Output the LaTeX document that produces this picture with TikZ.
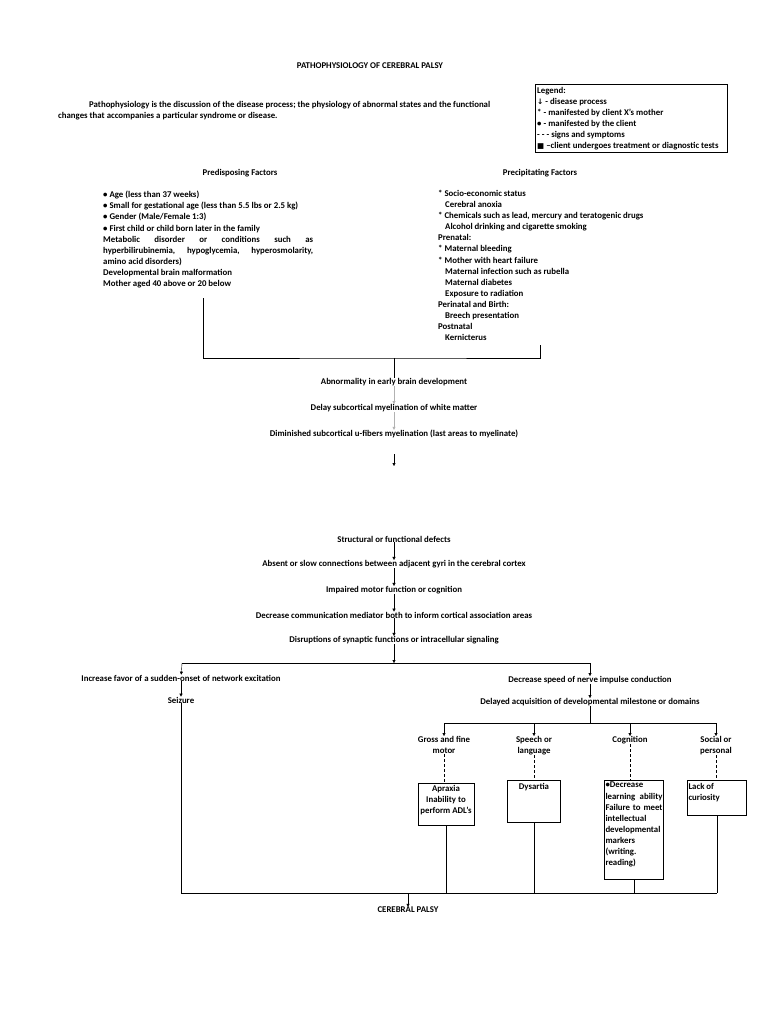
\documentclass[tikz,border=0pt]{standalone}
\usepackage{fontspec}
\setmainfont{Carlito}
\newfontfamily\symfont{DejaVu Sans}
\usetikzlibrary{arrows.meta, positioning}

\begin{document}
\begin{tikzpicture}[x=1pt, y=-1pt,
  txt/.style={font=\fontsize{8.8}{11.1}\selectfont\bfseries, inner sep=0pt},
  listbox/.style={txt, anchor=north west, align=left},
  flow/.style={-{Triangle[length=3pt, width=3pt]}, thin},
  faint/.style={flow, gray!60},
  link/.style={thin},
  sign/.style={thin, dash pattern=on 3pt off 2pt},
  framebox/.style={draw, thin, anchor=north, inner sep=0pt}
]
\useasboundingbox (0,0) rectangle (768,1024);

\node[txt] (title) at (370,66) {PATHOPHYSIOLOGY OF CEREBRAL PALSY};
\node[listbox] (intro) at (58,101) {\hspace*{31pt}Pathophysiology is the discussion of the disease process; the physiology of abnormal states and the functional\\changes that accompanies a particular syndrome or disease.};

\node[draw, thin, anchor=north west, minimum width=192pt, minimum height=68pt] (legend) at (535,84) {};
\node[listbox, below right=3pt and 2pt of legend.north west] (legendtext) {Legend:\\
{\symfont\fontsize{7.5}{11.1}\selectfont ↓} - disease process\\
* - manifested by client X's mother\\
• - manifested by the client\\
- - - signs and symptoms\\
{\symfont\fontsize{7.5}{11.1}\selectfont ■} --client undergoes treatment or diagnostic tests};

\node[txt] (predhead) at (240,173) {Predisposing Factors};
\node[listbox] (pred) at (103,191) {• Age (less than 37 weeks)\\
• Small for gestational age (less than 5.5 lbs or 2.5 kg)\\
• Gender (Male/Female 1:3)\\
• First child or child born later in the family\\
\hbox to 210pt{Metabolic\hfill disorder\hfill or\hfill conditions\hfill such\hfill as}\\
\hbox to 210pt{hyperbilirubinemia,\hfill hypoglycemia,\hfill hyperosmolarity,}\\
amino acid disorders)\\
Developmental brain malformation\\
Mother aged 40 above or 20 below};

\node[txt] (prechead) at (540,173) {Precipitating Factors};
\node[listbox] (prec) at (438,190) {* Socio-economic status\\
\hspace*{7pt}Cerebral anoxia\\
* Chemicals such as lead, mercury and teratogenic drugs\\
\hspace*{7pt}Alcohol drinking and cigarette smoking\\
Prenatal:\\
* Maternal bleeding\\
* Mother with heart failure\\
\hspace*{7pt}Maternal infection such as rubella\\
\hspace*{7pt}Maternal diabetes\\
\hspace*{7pt}Exposure to radiation\\
Perinatal and Birth:\\
\hspace*{7pt}Breech presentation\\
Postnatal\\
\hspace*{7pt}Kernicterus};

\coordinate (predend) at (203,298);
\coordinate (precend) at (540,345);
\coordinate (join) at (394,358);

\node[txt] (abnormal) at (394,382) {Abnormality in early brain development};
\node[txt] (delay) at (394,408) {Delay subcortical myelination of white matter};
\node[txt] (diminish) at (394,434) {Diminished subcortical u-fibers myelination (last areas to myelinate)};
\coordinate (gaptop) at (394,454);
\coordinate (gapend) at (394,466);

\node[txt] (defects) at (394,539) {Structural or functional defects};
\node[txt] (gyri) at (394,564) {Absent or slow connections between adjacent gyri in the cerebral cortex};
\node[txt] (impaired) at (394,590) {Impaired motor function or cognition};
\node[txt] (mediator) at (394,615) {Decrease communication mediator both to inform cortical association areas};
\node[txt] (synaptic) at (394,640) {Disruptions of synaptic functions or intracellular signaling};

\coordinate (split) at (394,663);
\coordinate (leftsplit) at (182,663);
\coordinate (rightsplit) at (590,663);

\node[txt] (excite) at (181,678) {Increase favor of a sudden-onset of network excitation};
\node[txt] (seizure) at (181,700) {Seizure};
\node[txt] (speed) at (590,680) {Decrease speed of nerve impulse conduction};
\node[txt] (milestone) at (590,702) {Delayed acquisition of developmental milestone or domains};

\coordinate (domains) at (590,723);
\coordinate (domleft) at (444,723);
\coordinate (domright) at (716,723);

\node[txt, align=center, anchor=north] (motor) at (444,736) {Gross and fine\\motor};
\node[txt, align=center, anchor=north] (speech) at (534,736) {Speech or\\language};
\node[txt, align=center, anchor=north] (cognition) at (630,736) {Cognition};
\node[txt, align=center, anchor=north] (social) at (716,736) {Social or\\personal};

\node[framebox, minimum width=56pt, minimum height=42pt] (apraxia) at (446,783) {};
\node[txt, align=center, below=2pt of apraxia.north] (apraxiatext) {Apraxia\\Inability to\\perform ADL's};
\node[framebox, minimum width=53pt, minimum height=42pt] (dysartia) at (534,780) {};
\node[txt, below=3pt of dysartia.north] (dysartiatext) {Dysartia};
\node[framebox, minimum width=59pt, minimum height=99pt] (learning) at (634,780) {};
\node[listbox, below right=2pt and 1pt of learning.north west] (learningtext) {•Decrease\\
\hbox to 57pt{learning\hfill ability}\\
\hbox to 57pt{Failure\hfill to\hfill meet}\\
intellectual\\
developmental\\
markers\\
(writing.\\
reading)};
\node[framebox, minimum width=59pt, minimum height=35pt] (curiosity) at (717,780) {};
\node[listbox, below right=3pt and 1pt of curiosity.north west] (curiositytext) {Lack of\\curiosity};

\coordinate (cpleft) at (181,893);
\coordinate (cpright) at (717,893);
\coordinate (cpjoin) at (408,893);
\node[txt] (palsy) at (408,910) {CEREBRAL PALSY};

\draw[link] (predend) |- (join) -| (precend);
\draw[link] (join) -- (abnormal);
\draw[faint] (abnormal) -- (delay);
\draw[faint] (delay) -- (diminish);
\draw[flow] (gaptop) -- (gapend);

\draw[flow] (defects) -- (gyri);
\draw[flow] (gyri) -- (impaired);
\draw[flow] (impaired) -- (mediator);
\draw[flow] (mediator) -- (synaptic);
\draw[flow] (synaptic) -- (split);
\draw[link] (leftsplit) -- (rightsplit);
\draw[flow] (leftsplit) -- (excite);
\draw[flow] (rightsplit) -- (speed);
\draw[flow] (excite) -- (seizure);
\draw[flow] (speed) -- (milestone);

\draw[link] (milestone) -- (domains);
\draw[link] (domleft) -- (domright);
\draw[flow] (domleft) -- (motor);
\draw[flow] (speech |- domains) -- (speech);
\draw[flow] (cognition |- domains) -- (cognition);
\draw[flow] (domright) -- (social);

\draw[sign] (motor) -- (motor |- apraxia.north);
\draw[sign] (speech) -- (speech |- dysartia.north);
\draw[sign] (cognition) -- (cognition |- learning.north);
\draw[sign] (social) -- (social |- curiosity.north);

\draw[link] (seizure) -- (cpleft) -- (cpright);
\draw[link] (apraxia) -- (apraxia |- cpleft);
\draw[link] (dysartia) -- (dysartia |- cpleft);
\draw[link] (learning) -- (learning |- cpleft);
\draw[link] (curiosity) -- (curiosity |- cpleft);
\draw[flow] (cpjoin) -- (palsy);

\end{tikzpicture}
\end{document}
